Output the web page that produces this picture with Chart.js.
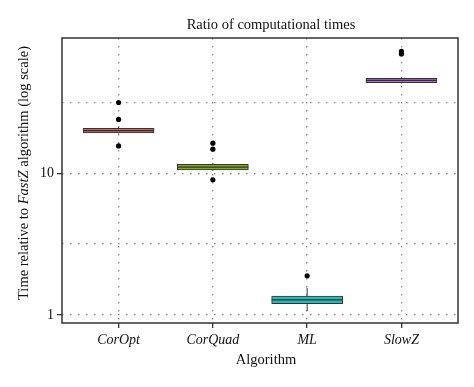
<!DOCTYPE html>
<html>
<head>
<meta charset="utf-8">
<script src="https://cdn.jsdelivr.net/npm/chart.js@4"></script>
<style>
  html, body { margin: 0; padding: 0; background: #fff; }
  #wrap { width: 474px; height: 387px; }
</style>
</head>
<body>
<div id="wrap"><canvas id="chart" width="474" height="387"></canvas></div>
<script>
const categories = ['CorOpt', 'CorQuad', 'ML', 'SlowZ'];
const q1 = [19.3, 10.55, 1.20, 43.6];
const medians = [20.0, 11.05, 1.28, 45.2];
const q3 = [20.8, 11.55, 1.36, 46.8];
const whiskerLow = [19.1, 10.4, 1.07, 43.0];
const whiskerHigh = [21.2, 11.8, 1.55, 47.5];
const outliers = [
  [31.6, 24.0, 15.6],
  [16.3, 14.8, 9.0],
  [1.89],
  [72.4, 69.5]
];
const yGrid = [1, 3.1623, 10, 31.623];
const yLabels = { 1: '1', 10: '10' };
const boxColors = ['#bf6a66', '#86a824', '#2ab7b7', '#ad6fd4'];

const serif = '"Liberation Serif", "DejaVu Serif", serif';

const boxPlugin = {
  id: 'boxExtras',
  beforeDatasetsDraw(chart) {
    const ctx = chart.ctx;
    const xs = chart.scales.x, ys = chart.scales.y;
    ctx.save();
    ctx.strokeStyle = '#333';
    ctx.lineWidth = 1;
    categories.forEach((c, i) => {
      const x = xs.getPixelForValue(i + 1);
      ctx.beginPath();
      ctx.moveTo(x, ys.getPixelForValue(whiskerHigh[i]));
      ctx.lineTo(x, ys.getPixelForValue(q3[i]));
      ctx.moveTo(x, ys.getPixelForValue(q1[i]));
      ctx.lineTo(x, ys.getPixelForValue(whiskerLow[i]));
      ctx.stroke();
    });
    ctx.restore();
  },
  afterDatasetsDraw(chart) {
    const ctx = chart.ctx;
    const ys = chart.scales.y;
    const meta = chart.getDatasetMeta(0);
    ctx.save();
    ctx.strokeStyle = '#333';
    ctx.lineWidth = 1.2;
    meta.data.forEach((bar, i) => {
      const half = bar.width / 2;
      const y = ys.getPixelForValue(medians[i]);
      ctx.beginPath();
      ctx.moveTo(bar.x - half, y);
      ctx.lineTo(bar.x + half, y);
      ctx.stroke();
    });
    ctx.restore();
  },
  afterDraw(chart) {
    const ctx = chart.ctx;
    const a = chart.chartArea;
    ctx.save();
    // panel frame
    ctx.strokeStyle = '#333';
    ctx.lineWidth = 1.5;
    ctx.strokeRect(a.left, a.top, a.right - a.left, a.bottom - a.top);

    ctx.fillStyle = '#111';
    ctx.textAlign = 'center';
    ctx.textBaseline = 'middle';
    ctx.font = '14.5px ' + serif;
    ctx.fillText('Ratio of computational times', 271, 25);
    ctx.fillText('Algorithm', 266, 360);

    // y title with italic FastZ
    const parts = [
      { t: 'Time relative to ', f: '14.5px ' + serif },
      { t: 'FastZ', f: 'italic 14.5px ' + serif },
      { t: ' algorithm (log scale)', f: '14.5px ' + serif }
    ];
    let total = 0;
    parts.forEach(p => { ctx.font = p.f; p.w = ctx.measureText(p.t).width; total += p.w; });
    ctx.translate(24, 173);
    ctx.rotate(-Math.PI / 2);
    ctx.textAlign = 'left';
    let x = -total / 2;
    parts.forEach(p => { ctx.font = p.f; ctx.fillText(p.t, x, 0); x += p.w; });
    ctx.restore();
  }
};

const outlierPoints = [];
outliers.forEach((list, i) => list.forEach(v => outlierPoints.push({ x: i + 1, y: v })));

new Chart(document.getElementById('chart'), {
  type: 'bar',
  data: {
    datasets: [{
      type: 'bar',
      data: categories.map((c, i) => ({ x: i + 1, y: [q1[i], q3[i]] })),
      backgroundColor: boxColors,
      borderColor: '#333',
      borderWidth: 1,
      borderSkipped: false,
      barThickness: 71
    }, {
      type: 'scatter',
      data: outlierPoints,
      pointRadius: 2.6,
      pointBackgroundColor: '#000',
      pointBorderWidth: 0
    }]
  },
  options: {
    responsive: false,
    animation: false,
    layout: { padding: { top: 38, right: 16, left: 0, bottom: 0 } },
    plugins: {
      legend: { display: false },
      tooltip: { enabled: false }
    },
    scales: {
      x: {
        type: 'linear',
        min: 0.4,
        max: 4.6,
        offset: false,
        afterBuildTicks: s => { s.ticks = [1, 2, 3, 4].map(v => ({ value: v })); },
        afterFit: s => { s.height = 64; },
        ticks: {
          callback: v => categories[v - 1],
          font: { family: serif, size: 14, style: 'italic' },
          color: '#111',
          padding: 4,
          maxRotation: 0
        },
        grid: {
          offset: false,
          color: '#888',
          lineWidth: 1.3,
          tickColor: '#333',
          tickLength: 5,
          tickBorderDash: []
        },
        border: { display: false, dash: [1.5, 6.5] }
      },
      y: {
        type: 'logarithmic',
        min: 0.878,
        max: 90.1,
        afterBuildTicks: s => { s.ticks = yGrid.map(v => ({ value: v })); },
        afterFit: s => { s.width = 62; },
        ticks: {
          callback: v => yLabels[v] || '',
          font: { family: serif, size: 14 },
          color: '#111',
          padding: 3
        },
        grid: {
          color: '#888',
          lineWidth: 1.3,
          tickColor: ctx => (yLabels[ctx.tick && ctx.tick.value] ? '#333' : 'rgba(0,0,0,0)'),
          tickLength: 5,
          tickBorderDash: []
        },
        border: { display: false, dash: [1.5, 6.5] }
      }
    }
  },
  plugins: [boxPlugin]
});
</script>
</body>
</html>
